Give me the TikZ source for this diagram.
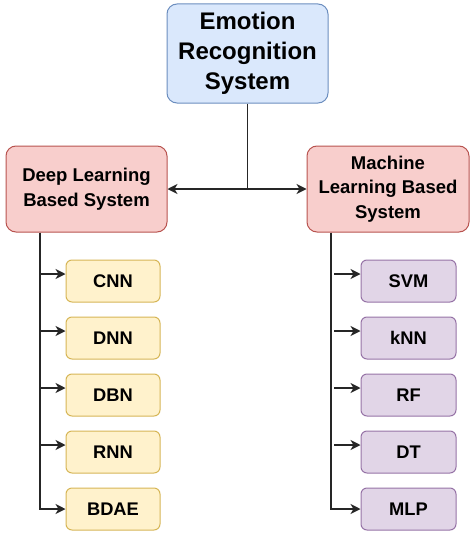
\documentclass[tikz,border=0pt]{standalone}
\usepackage{fontspec}
\setmainfont{Liberation Sans}
\usetikzlibrary{arrows.meta}
\definecolor{bluefill}{HTML}{DAE8FC}
\definecolor{bluedraw}{HTML}{6C8EBF}
\definecolor{redfill}{HTML}{F8CECC}
\definecolor{reddraw}{HTML}{B85450}
\definecolor{yelfill}{HTML}{FFF2CC}
\definecolor{yeldraw}{HTML}{D6B656}
\definecolor{purfill}{HTML}{E1D5E7}
\definecolor{purdraw}{HTML}{9673A6}
\tikzset{
  topbox/.style={draw=bluedraw, fill=bluefill, line width=1pt, rounded corners=10pt,
    minimum width=161pt, minimum height=99pt, align=center, inner sep=0pt,
    font=\bfseries\fontsize{24}{30}\selectfont},
  catbox/.style={draw=reddraw, fill=redfill, line width=1pt, rounded corners=10pt,
    minimum width=161pt, minimum height=86pt, align=center, inner sep=0pt,
    font=\bfseries\fontsize{18.5}{24.5}\selectfont},
  dlbox/.style={draw=yeldraw, fill=yelfill, line width=1pt, rounded corners=6pt,
    minimum width=94pt, minimum height=42pt, align=center, inner sep=0pt,
    font=\bfseries\fontsize{18.3}{22}\selectfont},
  mlbox/.style={draw=purdraw, fill=purfill, line width=1pt, rounded corners=6pt,
    minimum width=95pt, minimum height=42pt, align=center, inner sep=0pt,
    font=\bfseries\fontsize{18.3}{22}\selectfont},
  link/.style={draw=black!85, line width=1.2pt},
  arr/.style={link, -{Stealth[length=10pt,width=10pt,inset=3pt]}}
}
\begin{document}
\begin{tikzpicture}[x=1pt,y=-1pt]
\useasboundingbox (0,0) rectangle (474,535);
\node[topbox] (top) at (247.5,53.5) {Emotion\\Recognition\\System};
\node[catbox] (dl) at (86.5,189) {Deep Learning\\Based System};
\node[catbox, minimum width=162pt] (ml) at (388,189) {Machine\\Learning Based\\System};
\node[dlbox] (cnn) at (113,281) {CNN};
\node[dlbox] (dnn) at (113,338) {DNN};
\node[dlbox] (dbn) at (113,395) {DBN};
\node[dlbox] (rnn) at (113,452) {RNN};
\node[dlbox] (bdae) at (113,509) {BDAE};
\node[mlbox] (svm) at (408.5,281) {SVM};
\node[mlbox] (knn) at (408.5,338) {kNN};
\node[mlbox] (rf) at (408.5,395) {RF};
\node[mlbox] (dt) at (408.5,452) {DT};
\node[mlbox] (mlp) at (408.5,509) {MLP};
% top connectors
\coordinate (j) at (top.south |- dl.east);
\draw[link] (top.south) -- (j);
\draw[arr] (j) -- (dl.east);
\draw[arr] (j) -- (ml.west);
% left trunk
\coordinate (lt) at ([xshift=-46.5pt]dl.south);
\draw[link] (lt) -- (lt |- bdae.west);
\foreach \b in {cnn,dnn,dbn,rnn}{
  \coordinate (e\b) at ([yshift=7pt]\b.west);
  \draw[arr] (lt |- e\b) -- (e\b);
}
\draw[arr] (lt) |- (bdae.west);
% right trunk
\coordinate (rt) at ([xshift=-57pt]ml.south);
\coordinate (rs) at ([xshift=3pt]rt);
\draw[link] (rt) -- (rt |- mlp.west);
\foreach \b in {svm,knn,rf,dt}{
  \coordinate (e\b) at ([yshift=7pt]\b.west);
  \draw[arr] (rs |- e\b) -- (e\b);
}
\draw[arr] (rt) |- (mlp.west);
\end{tikzpicture}
\end{document}
